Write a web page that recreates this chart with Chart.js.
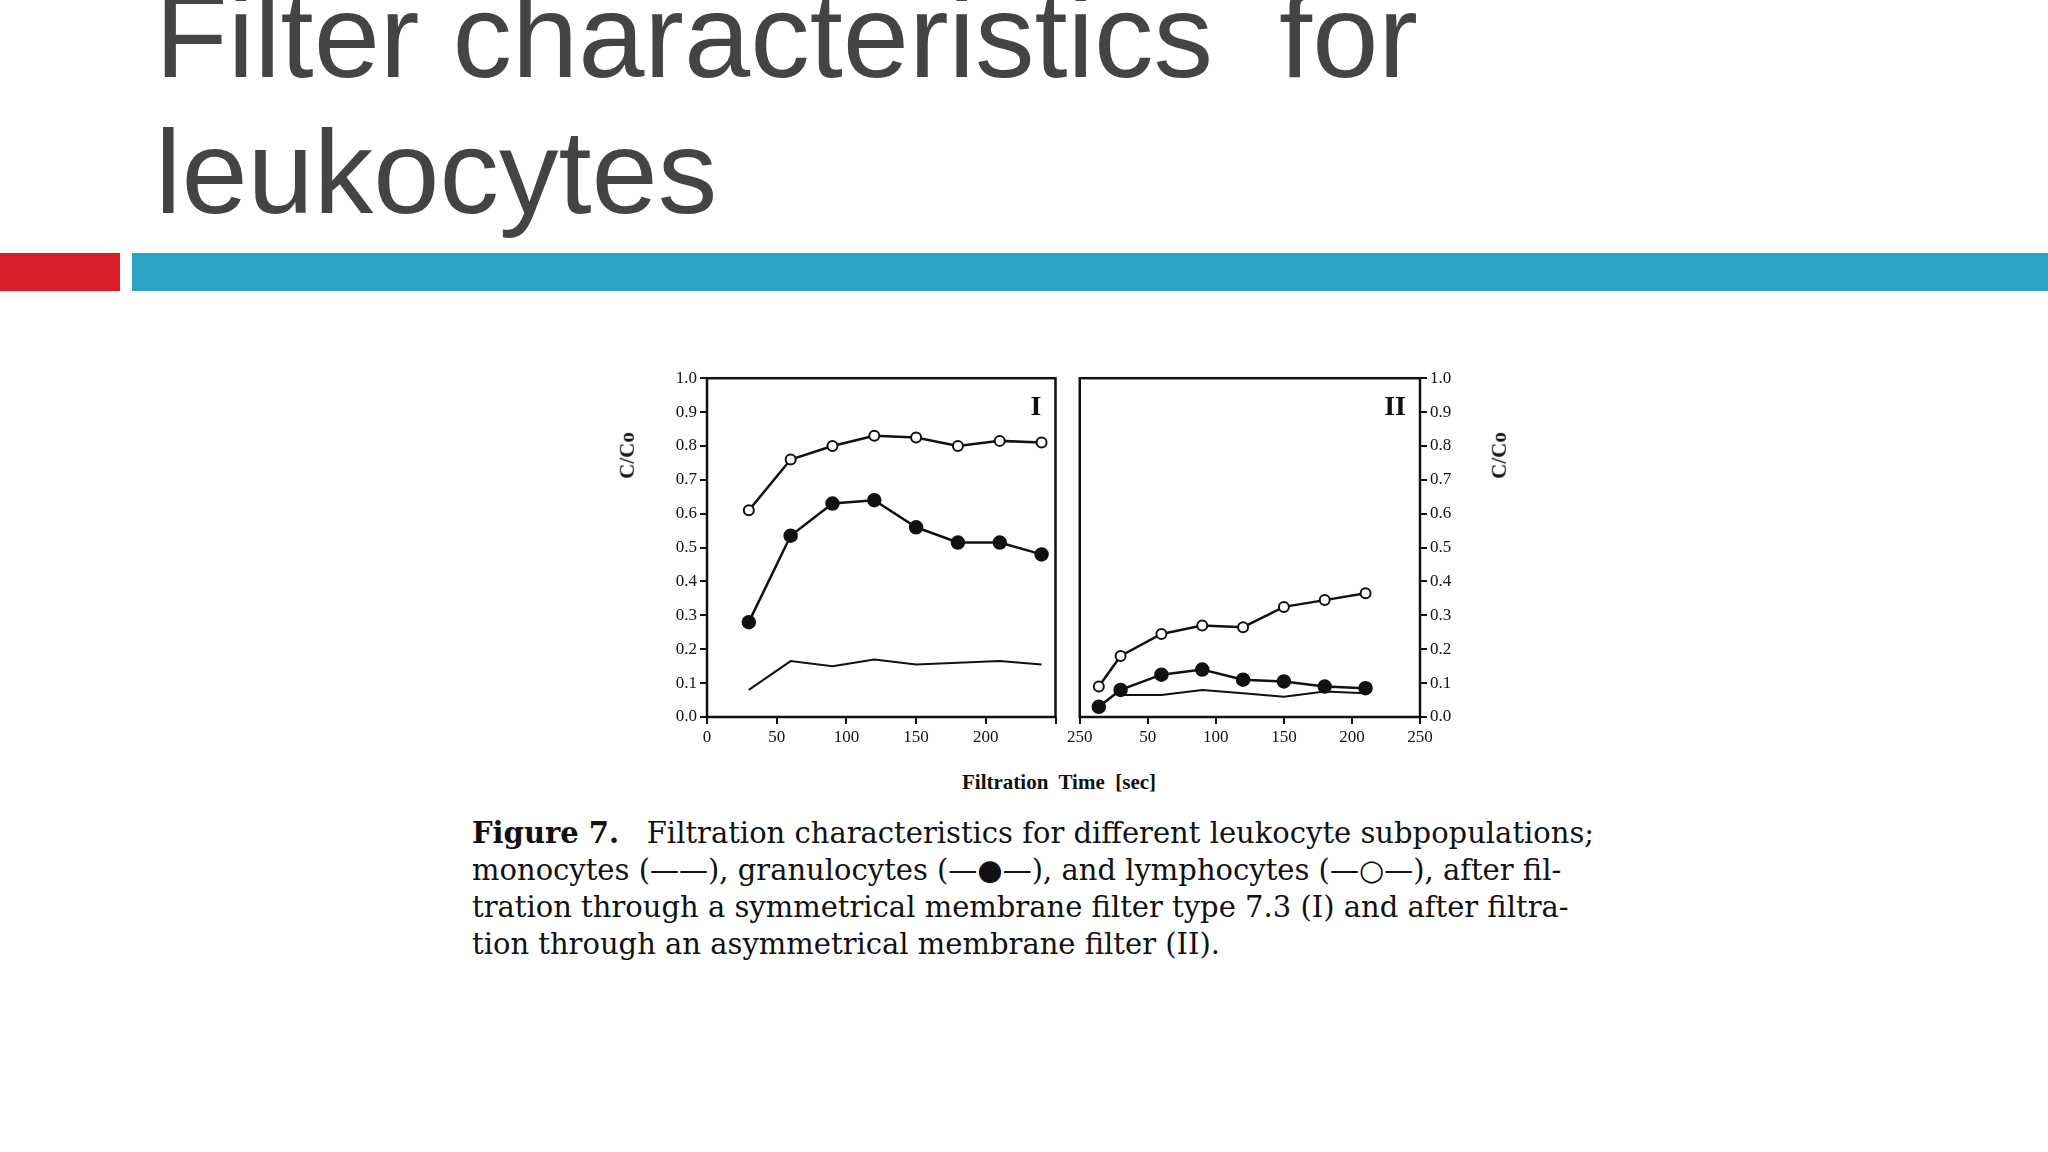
<!DOCTYPE html>
<html><head><meta charset="utf-8">
<script src="https://cdn.jsdelivr.net/npm/chart.js@4/dist/chart.umd.min.js"></script>
<style>
body{margin:0;width:2048px;height:1152px;background:#fff;position:relative;overflow:hidden;font-family:"Liberation Serif",serif}
.title{position:absolute;left:155px;font-family:"Liberation Sans",Arial,sans-serif;font-size:119px;color:#444;line-height:1;white-space:pre}
.bar{position:absolute;top:253px;height:38px}
canvas{position:absolute}
.lab{position:absolute;font-weight:bold;font-size:21px;color:#111}
.cap{position:absolute;left:472px;top:815px;font-family:"DejaVu Serif",serif;font-size:29px;line-height:37px;color:#111;white-space:nowrap}
</style></head><body>
<div class="title" style="top:-24px">Filter characteristics  for</div>
<div class="title" style="top:112px">leukocytes</div>
<div class="bar" style="left:0;width:120px;background:#d9202a"></div>
<div class="bar" style="left:132px;width:1916px;background:#2da3c4"></div>
<canvas id="c1"></canvas>
<canvas id="c2"></canvas>
<div class="lab" style="left:604px;top:443px;transform:rotate(-90deg)">C/Co</div>
<div class="lab" style="left:1476px;top:443px;transform:rotate(-90deg)">C/Co</div>
<div class="lab" style="left:962px;top:770px">Filtration&nbsp; Time&nbsp; [sec]</div>
<div class="cap"><b>Figure 7.</b>&nbsp;&nbsp; Filtration characteristics for different leukocyte subpopulations;<br>monocytes (——), granulocytes (—●—), and lymphocytes (—○—), after fil-<br>tration through a symmetrical membrane filter type 7.3 (I) and after filtra-<br>tion through an asymmetrical membrane filter (II).</div>
<script>
const xI=[30,60,90,120,150,180,210,240];
const lymphI=[0.61,0.76,0.80,0.83,0.825,0.80,0.815,0.81];
const granI=[0.28,0.535,0.63,0.64,0.56,0.515,0.515,0.48];
const monoI=[0.08,0.165,0.15,0.17,0.155,0.16,0.165,0.155];
const xII=[14,30,60,90,120,150,180,210];
const lymphII=[0.09,0.18,0.245,0.27,0.265,0.325,0.345,0.365];
const granII=[0.03,0.08,0.125,0.14,0.11,0.105,0.09,0.085];
const xMonoII=[30,60,90,120,150,180,210];
const monoII=[0.065,0.065,0.08,0.07,0.06,0.075,0.07];
const yTicks=[0,0.1,0.2,0.3,0.4,0.5,0.6,0.7,0.8,0.9,1.0];

let pts=(xs,ys)=>xs.map((x,i)=>({x:x,y:ys[i]}));
let sets=(xl,l,xg,g,xm,m)=>[
  {data:pts(xl,l),borderColor:'#111',borderWidth:2.5,pointRadius:5,pointBackgroundColor:'#fff',pointBorderColor:'#111',pointBorderWidth:2},
  {data:pts(xg,g),borderColor:'#111',borderWidth:2.5,pointRadius:6,pointBackgroundColor:'#111',pointBorderColor:'#111'},
  {data:pts(xm,m),borderColor:'#111',borderWidth:2,pointRadius:0}
];
const frame={id:'frame',afterDraw(c,a,o){
  let {left,right,top,bottom}=c.chartArea,ctx=c.ctx;
  ctx.save();ctx.strokeStyle='#111';ctx.lineWidth=2.5;ctx.strokeRect(left,top,right-left,bottom-top);
  ctx.font='bold 28px "Liberation Serif"';ctx.fillStyle='#111';ctx.textAlign='right';
  ctx.fillText(o.label,right-14,top+37);ctx.restore();
}};
let font={family:'"Liberation Serif", serif',size:17};
let make=(id,box,data,side,label,xcb)=>{
  let cv=document.getElementById(id);
  cv.style.left=box[0]+'px';cv.style.top=box[1]+'px';
  cv.width=box[2];cv.height=box[3];
  new Chart(cv,{type:'line',data:{datasets:data},plugins:[frame],
    options:{responsive:false,animation:false,devicePixelRatio:1,
      layout:{padding:{top:10,left:0,right:0,bottom:0}},
      plugins:{legend:{display:false},tooltip:{enabled:false},frame:{label:label}},
      scales:{
        x:{type:'linear',min:0,max:250,afterFit:s=>{s.height=40},
          afterBuildTicks:s=>{s.ticks=[0,50,100,150,200,250].map(v=>({value:v}))},
          grid:{drawOnChartArea:false,tickLength:7,color:'#111',lineWidth:2},border:{display:false},
          ticks:{color:'#111',font:font,maxRotation:0,callback:xcb}},
        y:{position:side,min:0,max:1,afterFit:s=>{s.width=side=='left'?87:90},
          afterBuildTicks:s=>{s.ticks=yTicks.map(v=>({value:v}))},
          grid:{drawOnChartArea:false,tickLength:7,color:'#111',lineWidth:2},border:{display:false},
          ticks:{color:'#111',font:font,callback:v=>v.toFixed(1)}}
      }}});
};
make('c1',[620,365,444,392],sets(xI,lymphI,xI,granI,xI,monoI),'left','I',v=>v==250?'':v);
make('c2',[1064,365,446,392],sets(xII,lymphII,xII,granII,xMonoII,monoII),'right','II',v=>v==0?'250':v);
</script>
</body></html>
